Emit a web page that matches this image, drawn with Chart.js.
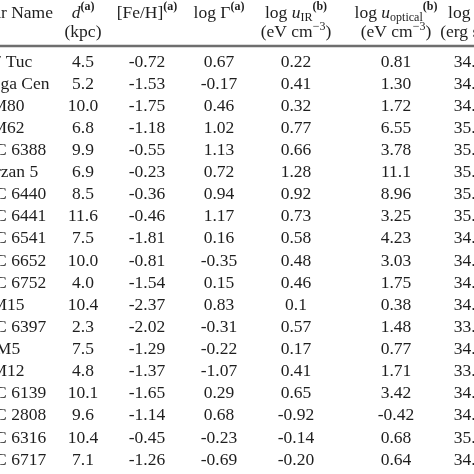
<!DOCTYPE html>
<html><head><meta charset="utf-8">
<script src="https://cdn.jsdelivr.net/npm/chart.js@4/dist/chart.umd.min.js"></script>
<style>html,body{margin:0;padding:0;background:#fff}#w{width:474px;height:474px}</style>
</head><body><div id="w"><canvas id="c"></canvas></div>
<script>
const names=["47 Tuc","Omega Cen","M80","M62","NGC 6388","Terzan 5","NGC 6440","NGC 6441","NGC 6541","NGC 6652","NGC 6752","M15","NGC 6397","M5","M12","NGC 6139","NGC 2808","NGC 6316","NGC 6717"];
const dist=["4.5","5.2","10.0","6.8","9.9","6.9","8.5","11.6","7.5","10.0","4.0","10.4","2.3","7.5","4.8","10.1","9.6","10.4","7.1"];
const feh=["-0.72","-1.53","-1.75","-1.18","-0.55","-0.23","-0.36","-0.46","-1.81","-0.81","-1.54","-2.37","-2.02","-1.29","-1.37","-1.65","-1.14","-0.45","-1.26"];
const logGamma=["0.67","-0.17","0.46","1.02","1.13","0.72","0.94","1.17","0.16","-0.35","0.15","0.83","-0.31","-0.22","-1.07","0.29","0.68","-0.23","-0.69"];
const logUIR=["0.22","0.41","0.32","0.77","0.66","1.28","0.92","0.73","0.58","0.48","0.46","0.1","0.57","0.17","0.41","0.65","-0.92","-0.14","-0.20"];
const logUopt=["0.81","1.30","1.72","6.55","3.78","11.1","8.96","3.25","4.23","3.03","1.75","0.38","1.48","0.77","1.71","3.42","-0.42","0.68","0.64"];
const logL=["34.6","34.4","34.9","35.0","35.4","35.4","35.3","35.5","34.5","34.8","34.1","34.7","33.3","34.3","33.9","34.7","34.7","35.4","34.3"];
const columns=[names,dist,feh,logGamma,logUIR,logUopt,logL];
// layout (pixel-space x positions on the x scale)
const colX=[8,83,147,219,296,396,469];
const F='"Liberation Serif","DejaVu Serif",serif';
const headers=[
 [[["Pulsar Name","n"]],[]],
 [[["d","i"],["(a)","sb"]],[["(kpc)","n"]]],
 [[["[Fe/H]","n"],["(a)","sb"]],[]],
 [[["log Γ","n"],["(a)","sb"]],[]],
 [[["log ","n"],["u","i"],["IR","sub"],["(b)","sb"]],[["(eV cm","n"],["−3","sup"],[")","n"]]],
 [[["log ","n"],["u","i"],["optical","sub"],["(b)","sb"]],[["(eV cm","n"],["−3","sup"],[")","n"]]],
 [[["log ","n"],["L","i"],["γ","sub"]],[["(erg s","n"],["−1","sup"],[")","n"]]]
];
function fontFor(t){if(t==="i")return "italic 17.5px "+F;if(t==="sb")return "bold 12px "+F;if(t==="sub"||t==="sup")return "12px "+F;return "17.5px "+F;}
function dyFor(t){if(t==="sb"||t==="sup")return -6;if(t==="sub")return 5;return 0;}
function drawSegs(ctx,segs,x,y){
  let w=0;segs.forEach(s=>{ctx.font=fontFor(s[1]);w+=ctx.measureText(s[0]).width;});
  let cx=x-w/2;
  ctx.textAlign="left";
  segs.forEach(s=>{ctx.font=fontFor(s[1]);ctx.fillText(s[0],cx,y+dyFor(s[1]));cx+=ctx.measureText(s[0]).width;});
}
const tablePlugin={id:"table",afterDraw(chart){
  const ctx=chart.ctx,xs=chart.scales.x,ys=chart.scales.y;
  ctx.save();ctx.fillStyle="#1e1e1e";ctx.textBaseline="middle";
  headers.forEach((h,i)=>{const x=xs.getPixelForValue(colX[i]);
    drawSegs(ctx,h[0],x,ys.getPixelForValue(-2.2));
    if(h[1].length)drawSegs(ctx,h[1],x,ys.getPixelForValue(-1.32));});
  ctx.strokeStyle="#6e6e6e";ctx.lineWidth=2.5;
  const ry=ys.getPixelForValue(-0.72);
  ctx.beginPath();ctx.moveTo(0,ry);ctx.lineTo(474,ry);ctx.stroke();
  ctx.font="17.5px "+F;ctx.textAlign="center";
  columns.forEach((col,i)=>{const x=xs.getPixelForValue(colX[i]);
    col.forEach((v,r)=>ctx.fillText(v,x,ys.getPixelForValue(r)));});
  ctx.restore();
}};
const pts=[];columns.forEach((col,i)=>col.forEach((v,r)=>pts.push({x:colX[i],y:r})));
new Chart(document.getElementById("c"),{type:"scatter",
 data:{datasets:[{data:pts,pointRadius:0,pointHoverRadius:0}]},
 options:{responsive:true,maintainAspectRatio:false,animation:false,
  layout:{padding:0},
  plugins:{legend:{display:false},tooltip:{enabled:false}},
  scales:{x:{type:"linear",min:0,max:474,display:false},
          y:{type:"linear",min:-2.8,max:18.63,reverse:true,display:false}}},
 plugins:[tablePlugin]});
</script></body></html>
